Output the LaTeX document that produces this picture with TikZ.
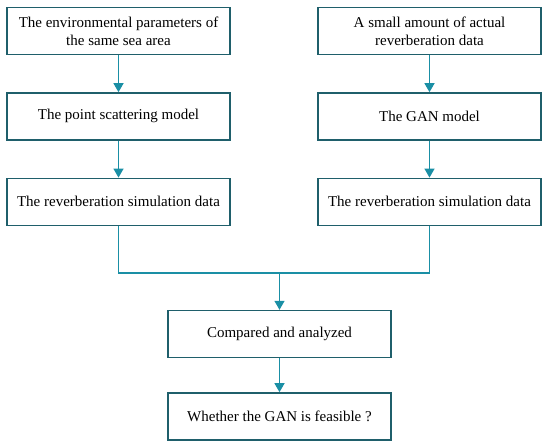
\documentclass[tikz,border=0pt]{standalone}
\usepackage{fontspec}
\setmainfont{Liberation Serif}
\usepackage{tikz}
\usetikzlibrary{positioning,arrows.meta}
\definecolor{boxline}{HTML}{1F5F6B}
\definecolor{arrowline}{HTML}{1A8FA5}

\begin{document}
\begin{tikzpicture}[x=1pt,y=1pt,
    stage/.style={draw=boxline, line width=1.4pt, minimum width=223pt, minimum height=47pt,
      align=center, inner sep=2pt, font=\fontsize{15}{18}\selectfont},
    flow/.style={draw=arrowline, line width=1.3pt, -{Triangle[width=10pt,length=9pt]}},
    node distance=37pt]
      \useasboundingbox (0,0) rectangle (550,-444);
      \node[stage] (envpar) at (118.5,-31) {The environmental parameters of\\the same sea area};
      \node[stage, below=of envpar] (scatter) {The point scattering model};
      \node[stage, below=of scatter] (simleft) {The reverberation simulation data};
      \node[stage] (actual) at (429.5,-31) {A small amount of actual\\reverberation data};
      \node[stage, below=of actual] (gan) {The GAN model};
      \node[stage, below=of gan] (simright) {The reverberation simulation data};
      \node[stage] (compare) at (279.5,-334) {Compared and analyzed};
      \node[stage, below=34pt of compare] (feasible) {Whether the GAN is feasible ?};
      \coordinate (join) at (279.5,-273);
      \draw[flow] (envpar) -- (scatter);
      \draw[flow] (scatter) -- (simleft);
      \draw[flow] (actual) -- (gan);
      \draw[flow] (gan) -- (simright);
      \draw[draw=arrowline, line width=1.3pt] (simleft.south) |- (join) -| (simright.south);
      \draw[flow] (join) -- (compare);
      \draw[flow] (compare) -- (feasible);
\end{tikzpicture}
\end{document}
